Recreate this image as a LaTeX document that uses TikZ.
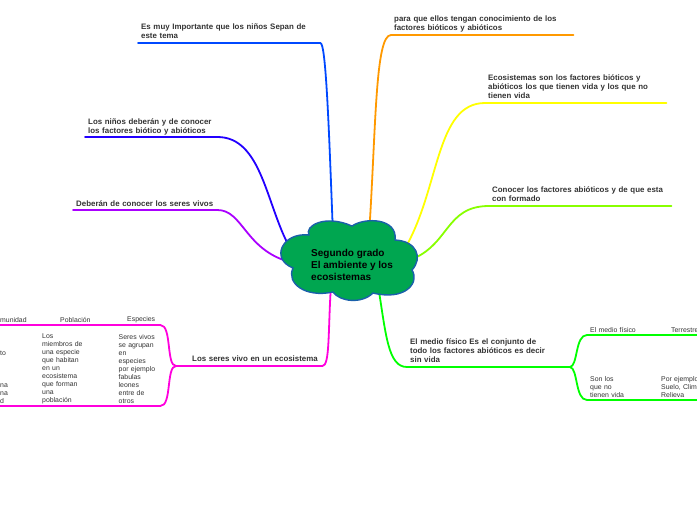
\documentclass[tikz,border=0pt]{standalone}
\usepackage{fontspec}
\setmainfont{Liberation Sans}
\definecolor{cloudfill}{RGB}{0,166,80}
\definecolor{cloudline}{RGB}{26,96,170}
\definecolor{inktext}{RGB}{51,51,51}
\definecolor{lineblue}{RGB}{0,72,255}
\definecolor{lineindigo}{RGB}{34,0,255}
\definecolor{linepurple}{RGB}{170,0,255}
\definecolor{lineorange}{RGB}{255,153,0}
\definecolor{lineyellow}{RGB}{255,255,0}
\definecolor{linelime}{RGB}{136,255,0}
\definecolor{linegreen}{RGB}{0,255,0}
\definecolor{linepink}{RGB}{255,0,221}
\tikzset{
  topic/.style={anchor=south west,align=left,inner xsep=3pt,inner ysep=4.5pt,
    font=\fontsize{7.9}{9}\selectfont\bfseries,text=inktext},
  subtopic/.style={anchor=south west,align=left,inner xsep=3pt,inner ysep=2pt,
    font=\fontsize{6.9}{8}\selectfont,text=inktext},
  branch/.style={line width=1.8pt,line cap=round},
}
\begin{document}
\hyphenpenalty=10000
\begin{tikzpicture}[x=1pt,y=-1pt]
  \useasboundingbox (0,0) rectangle (697,520);
  \node[topic,text width=176pt] (importante) at (138,43) {Es muy Importante que los niños Sepan de\\este tema};
  \node[topic,text width=126pt,inner ysep=1.5pt] (factores) at (85,137) {Los niños deberán y de conocer\\los factores biótico y abióticos};
  \node[topic,text width=138pt,inner ysep=3pt] (seres) at (73,210) {Deberán de conocer los seres vivos};
  \node[topic,text width=176pt,inner ysep=2.5pt] (para) at (391,35) {para que ellos tengan conocimiento de los\\factores bióticos y abióticos};
  \node[topic,text width=175pt] (ecosistemas) at (485,103) {Ecosistemas son los factores bióticos y\\abióticos los que tienen vida y los que no\\tienen vida};
  \node[topic,text width=176pt] (abioticos) at (489,206) {Conocer los factores abióticos y de que esta\\con formado};
  \node[topic,text width=155pt] (medio) at (407,367) {El medio físico Es el conjunto de\\todo los factores abióticos es decir\\sin vida};
  \node[topic,text width=127pt] (vivo) at (189,366) {Los seres vivo en un ecosistema};
  \node[subtopic,text width=30pt] (especies) at (124,325) {Especies};
  \node[subtopic,text width=61pt] (poblacion) at (57,325) {Población};
  \node[subtopic,text width=51pt] (comunidad) at (-3,325) {munidad};
  \node[subtopic,text width=38.5pt] (agrupan) at (115.5,406) {Seres vivos\\se agrupan\\en\\especies\\por ejemplo\\fabulas\\leones\\entre de\\otros};
  \node[subtopic,text width=70.5pt] (miembros) at (39,406) {Los\\miembros de\\una especie\\que habitan\\en un\\ecosistema\\que forman\\una\\población};
  \node[subtopic,text width=36pt] (cortado) at (-3,406) {~\\~\\to\\~\\~\\~\\na\\na\\d};
  \node[subtopic,text width=75pt] (fisico) at (587,335) {El medio físico};
  \node[subtopic,text width=28pt] (terrestre) at (668,335) {Terrestre};
  \node[subtopic,text width=65pt] (sonlos) at (587,400) {Son los\\que no\\tienen vida};
  \node[subtopic,text width=40pt] (ejemplo) at (658,400) {Por ejemplo\\Suelo, Clim\\Relieva};
  \coordinate (hubblue) at (333,235);
  \coordinate (hubindigo) at (290,248);
  \coordinate (hubpurple) at (290,262);
  \coordinate (huborange) at (369,235);
  \coordinate (hubyellow) at (404,250);
  \coordinate (hublime) at (410,260);
  \coordinate (hubgreen) at (378,285);
  \coordinate (hubpink) at (331,285);
  \coordinate (pinkfork) at (176,366);
  \coordinate (greenfork) at (570,367);
  \draw[branch,lineblue] (hubblue) .. controls (329,130) and (326,43) .. (importante.south east) -- (importante.south west);
  \draw[branch,lineindigo] (hubindigo) .. controls (266,205) and (262,137) .. (factores.south east) -- (factores.south west);
  \draw[branch,linepurple] (hubpurple) .. controls (245,250) and (243,210) .. (seres.south east) -- (seres.south west);
  \draw[branch,lineorange] (huborange) .. controls (376,130) and (375,35) .. (para.south west) -- (para.south east);
  \draw[branch,lineyellow] (hubyellow) .. controls (440,190) and (435,103) .. (ecosistemas.south west) -- (ecosistemas.south east);
  \draw[branch,linelime] (hublime) .. controls (450,245) and (445,206) .. (abioticos.south west) -- (abioticos.south east);
  \draw[branch,linegreen] (hubgreen) .. controls (386,335) and (388,367) .. (medio.south west) -- (medio.south east) -- (greenfork);
  \draw[branch,linegreen] (greenfork) .. controls (578,366) and (575,335) .. (fisico.south west) -- (fisico.south east) -- (terrestre.south east);
  \draw[branch,linegreen] (greenfork) .. controls (578,368) and (575,400) .. (sonlos.south west) -- (sonlos.south east) -- (ejemplo.south east);
  \draw[branch,linepink] (hubpink) .. controls (328,330) and (330,366) .. (vivo.south east) -- (vivo.south west) -- (pinkfork);
  \draw[branch,linepink] (pinkfork) .. controls (166,366) and (172,325) .. (especies.south east) -- (especies.south west) -- (poblacion.south west) -- (comunidad.south west);
  \draw[branch,linepink] (pinkfork) .. controls (166,366) and (172,406) .. (agrupan.south east) -- (agrupan.south west) -- (miembros.south west) -- (cortado.south west);
  \draw[line width=1.4pt,cloudline,fill=cloudfill] (309,235)
    .. controls (304,226) and (325,214) .. (352,226)
    .. controls (365,217) and (398,218) .. (395,240)
    .. controls (417,241) and (423,258) .. (412,270)
    .. controls (420,283) and (405,301) .. (373,293)
    .. controls (362,304) and (340,302) .. (333,292)
    .. controls (305,298) and (286,283) .. (293,268)
    .. controls (270,259) and (282,232) .. (309,235) -- cycle;
  \node[anchor=west,align=left,inner sep=0pt,font=\fontsize{10}{12}\selectfont\bfseries] (hub) at (311,265) {Segundo grado\\El ambiente y los\\ecosistemas};
\end{tikzpicture}
\end{document}
